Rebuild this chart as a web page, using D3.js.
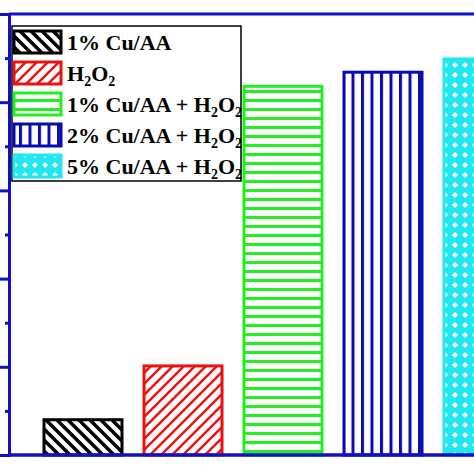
<!DOCTYPE html><html><head><meta charset="utf-8">
<script src="https://cdn.jsdelivr.net/npm/d3@7"></script>
<style>body{margin:0;background:#fff}</style></head><body>
<svg id="c" width="474" height="474"></svg>
<script>
const categories=["1% Cu/AA","H2O2","1% Cu/AA + H2O2","2% Cu/AA + H2O2","5% Cu/AA + H2O2"];
const values=[0.40,1.01,4.18,4.34,4.49];
const colors=["#000000","#ee1111","#22ee22","#0a0ab4","#22e6f0"];
const patterns=["back","fwd","horiz","vert","cross"];
const majorTicks=[0,1,2,3,4,5];
const minorTicks=[0.5,1.5,2.5,3.5,4.5];
const svg=d3.select("#c");
const defs=svg.append("defs");
function pat(id,type,col){
  const p=defs.append("pattern").attr("id",id).attr("patternUnits","userSpaceOnUse");
  if(type==="back"){p.attr("width",11).attr("height",11);
    p.append("path").attr("d","M-3,-3L14,14M-3,8L3,14M8,-3L14,3").attr("stroke",col).attr("stroke-width",3.5);}
  if(type==="fwd"){p.attr("width",11).attr("height",11);
    p.append("path").attr("d","M-3,14L14,-3M-3,3L3,-3M8,14L14,8").attr("stroke",col).attr("stroke-width",2.5);}
  if(type==="horiz"){p.attr("width",10).attr("height",9);
    p.append("rect").attr("x",0).attr("y",0).attr("width",10).attr("height",3).attr("fill",col);}
  if(type==="vert"){p.attr("width",9.5).attr("height",10);
    p.append("rect").attr("x",0).attr("y",0).attr("width",3).attr("height",10).attr("fill",col);}
  if(type==="cross"){p.attr("width",10).attr("height",10);
    p.append("rect").attr("width",10).attr("height",10).attr("fill",col);
    p.append("path").attr("d","M5,2L8,5L5,8L2,5Z").attr("fill","#fff");}
}
categories.forEach((c,i)=>pat("p"+i,patterns[i],colors[i]));
const x=d3.scaleBand().domain(categories).range([44,522]).paddingInner(0.22).paddingOuter(0);
const y=d3.scaleLinear().domain([0,5]).range([455,14]);
svg.selectAll("rect.bar").data(categories).join("rect").attr("class","bar")
  .attr("x",d=>x(d)).attr("width",x.bandwidth())
  .attr("y",(d,i)=>y(values[i])).attr("height",(d,i)=>y(0)-y(values[i]))
  .attr("fill",(d,i)=>`url(#p${i})`).attr("stroke",(d,i)=>colors[i]).attr("stroke-width",3);
const ax=svg.append("g").attr("transform","translate(9,0)");
ax.call(d3.axisLeft(y).tickValues(majorTicks).tickSize(9).tickFormat(""));
ax.append("g").call(d3.axisLeft(y).tickValues(minorTicks).tickSize(4).tickFormat(""));
ax.selectAll("path,line").attr("stroke","#1010c8").attr("stroke-width",3);
svg.append("line").attr("x1",9).attr("x2",474).attr("y1",14).attr("y2",14).attr("stroke","#1010c8").attr("stroke-width",3);
svg.append("line").attr("x1",9).attr("x2",474).attr("y1",455).attr("y2",455).attr("stroke","#1010c8").attr("stroke-width",3.5);
const lg=svg.append("g");
lg.append("rect").attr("x",12).attr("y",26).attr("width",229).attr("height",155).attr("fill","#fff").attr("stroke","#000").attr("stroke-width",1.5);
const labels=[["1% Cu/AA"],["H","2","O","2"],["1% Cu/AA + H","2","O","2"],["2% Cu/AA + H","2","O","2"],["5% Cu/AA + H","2","O","2"]];
categories.forEach((c,i)=>{
  const yy=30+i*31;
  lg.append("rect").attr("x",14).attr("y",yy+1).attr("width",47).attr("height",22).attr("fill",`url(#p${i})`).attr("stroke",colors[i]).attr("stroke-width",3);
  const t=lg.append("text").attr("x",67).attr("y",yy+20).attr("font-family","Liberation Serif").attr("font-weight","bold");
  labels[i].forEach((s,k)=>{
    const sub=(k%2===1);
    t.append("tspan").text(s).attr("font-size",sub?14:22).attr("dy",sub?5:(k>0?-5:0));
  });
});
</script></body></html>
